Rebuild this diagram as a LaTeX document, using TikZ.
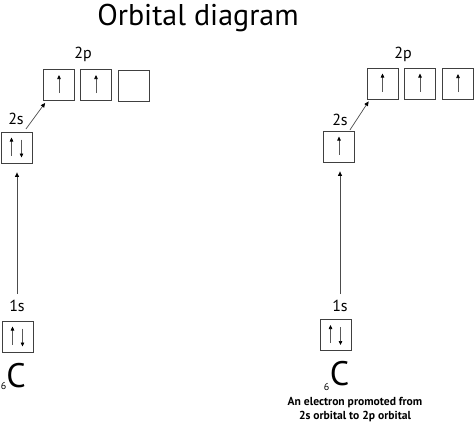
\documentclass[tikz,border=0pt]{standalone}
\usepackage{fontspec}
\setmainfont{PT Sans}
\usetikzlibrary{arrows.meta, calc}

\tikzset{
  orb/.style={draw=black!75, line width=0.8pt, minimum size=31pt, inner sep=0pt},
  lbl/.style={font=\fontsize{16}{16}\selectfont, inner sep=0pt},
  spin/.style={draw=black!65, line width=0.7pt, -{Triangle[length=4pt,width=3.5pt,color=black]}},
  jump/.style={draw=black!70, line width=0.7pt, -{Triangle[length=4.5pt,width=4pt,color=black]}},
  elem/.style={font=\fontsize{34}{34}\selectfont, inner sep=0pt},
  znum/.style={font=\fontsize{10}{10}\selectfont, inner sep=0pt}
}
% electron arrows inside a box: node, xshift
\newcommand{\spinup}[2]{\draw[spin] ([xshift=#2pt,yshift=-8pt]#1.center) -- ([xshift=#2pt,yshift=10pt]#1.center);}
\newcommand{\spindown}[2]{\draw[spin] ([xshift=#2pt,yshift=8pt]#1.center) -- ([xshift=#2pt,yshift=-10pt]#1.center);}

\begin{document}
\begin{tikzpicture}[x=1pt,y=-1pt]
    \useasboundingbox (0,0) rectangle (474,424);
    \node[font=\fontsize{30}{30}\selectfont, inner sep=0pt] (title) at (198,18) {Orbital diagram};

    % ground state
    \node[orb] (a1s) at (17.5,336.5) {};
    \node[orb] (a2s) at (16.5,147.5) {};
    \node[orb] (a2px) at (59,85) {};
    \node[orb] (a2py) at (96,85) {};
    \node[orb] (a2pz) at (134,86) {};
    \node[lbl] (la1s) at (17,306) {1s};
    \node[lbl] (la2s) at (16,119) {2s};
    \node[lbl] (la2p) at (83,54) {2p};
    \node[elem, anchor=base] (ca) at (16,387) {C};
    \node[znum] (za) at ([xshift=-2.5pt,yshift=1pt]ca.base west) {6};

    \spinup{a1s}{-5} \spindown{a1s}{5}
    \spinup{a2s}{-5} \spindown{a2s}{5}
    \spinup{a2px}{0}
    \spinup{a2py}{0}

    \draw[jump] ([yshift=6pt]la1s.north) -- ([yshift=-9pt]la1s.north |- a2s.south);
    \draw[jump] ([xshift=2pt,yshift=-4pt]la2s.south east) -- ([xshift=2pt,yshift=-2pt]a2px.south west);

    % excited state
    \node[orb] (b1s) at (335.5,335) {};
    \node[orb] (b2s) at (339,146.5) {};
    \node[orb] (b2px) at (382.5,83.5) {};
    \node[orb] (b2py) at (420,83.5) {};
    \node[orb] (b2pz) at (458,84) {};
    \node[lbl] (lb1s) at (340,306) {1s};
    \node[lbl] (lb2s) at (340,120) {2s};
    \node[lbl] (lb2p) at (403,54) {2p};
    \node[elem, anchor=base] (cb) at (339.5,385) {C};
    \node[znum] (zb) at ([xshift=-3pt,yshift=-2pt]cb.base west) {6};
    \node[font=\bfseries\fontsize{11.6}{14.5}\selectfont, align=center, inner sep=0pt] (note) at (355,409.5)
        {An electron promoted from\\2s orbital to 2p orbital};

    \spinup{b1s}{-5} \spindown{b1s}{5}
    \spinup{b2s}{0}
    \spinup{b2px}{0}
    \spinup{b2py}{0}
    \spinup{b2pz}{0}

    \draw[jump] ([yshift=6pt]lb1s.north) -- ([yshift=-9pt]lb1s.north |- b2s.south);
    \draw[jump] ([xshift=2pt,yshift=-4pt]lb2s.south east) -- ([xshift=2pt,yshift=-2pt]b2px.south west);
\end{tikzpicture}
\end{document}
